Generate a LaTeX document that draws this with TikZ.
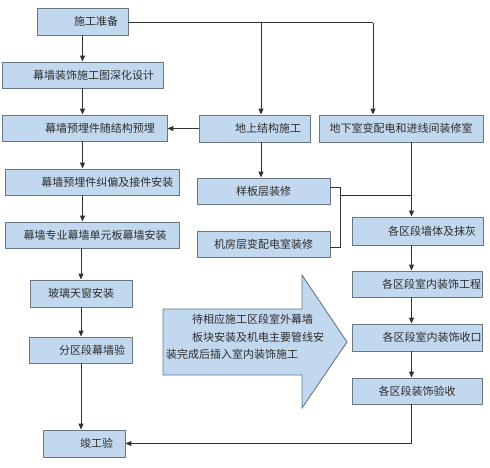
\documentclass[tikz,border=0pt]{standalone}
\usepackage{fontspec}
\setmainfont{Noto Sans CJK SC}
\usetikzlibrary{arrows.meta}
\definecolor{boxfill}{RGB}{193,216,238}
\definecolor{boxline}{RGB}{105,118,132}
\definecolor{linec}{RGB}{50,50,50}
\definecolor{txtc}{RGB}{45,45,45}
\begin{document}
\begin{tikzpicture}[x=1pt,y=-1pt,
  box/.style={draw=boxline,fill=boxfill,line width=0.9pt,inner sep=0pt,
    text=txtc,font=\fontsize{11}{13}\selectfont},
  conn/.style={draw=linec,line width=1pt},
  arr/.style={conn,-{Triangle[length=6pt,width=5pt]}}]
\useasboundingbox (0,0) rectangle (490,467);
% left column
\node[box,minimum width=91pt,minimum height=27pt] (A) at (82.5,21.5) {\hspace*{27pt}施工准备};
\node[box,minimum width=161pt,minimum height=26pt] (B) at (82.5,75) {\hspace*{22pt}幕墙装饰施工图深化设计};
\node[box,minimum width=165pt,minimum height=26pt] (C) at (84.5,128) {\hspace*{31pt}幕墙预埋件随结构预埋};
\node[box,minimum width=174pt,minimum height=26pt] (D) at (92,182) {\hspace*{31pt}幕墙预埋件纠偏及接件安装};
\node[box,minimum width=174pt,minimum height=26pt] (E) at (92,235) {\hspace*{6pt}幕墙专业幕墙单元板幕墙安装};
\node[box,minimum width=102pt,minimum height=27pt] (F) at (81,293.5) {玻璃天窗安装};
\node[box,minimum width=103pt,minimum height=26pt] (G) at (80.5,350) {\hspace*{23pt}分区段幕墙验};
\node[box,minimum width=82pt,minimum height=27pt] (H) at (84,443.5) {\hspace*{25pt}竣工验};
% middle column
\node[box,minimum width=111pt,minimum height=27pt] (I) at (254.5,128.5) {\hspace*{27pt}地上结构施工};
\node[box,minimum width=133pt,minimum height=26pt] (K) at (263.5,191) {样板层装修};
\node[box,minimum width=133pt,minimum height=26pt] (L) at (263.5,244) {机房层变配电室装修};
% right column
\node[box,minimum width=164pt,minimum height=27pt] (J) at (401,128.5) {地下室变配电和进线间装修室};
\node[box,minimum width=131pt,minimum height=28pt] (M) at (417.5,231) {\hspace*{29pt}各区段墙体及抹灰};
\node[box,minimum width=130pt,minimum height=26pt] (N) at (417,284) {\hspace*{29pt}各区段室内装饰工程};
\node[box,minimum width=130pt,minimum height=27pt] (O) at (417,337.5) {\hspace*{30pt}各区段室内装饰收口};
\node[box,minimum width=130pt,minimum height=26pt] (P) at (417,391) {各区段装饰验收};
% big arrow
\draw[draw=boxline,fill=boxfill,line width=0.9pt]
  (163,309) -- (302,309) -- (302,275) -- (347,342) -- (302,408) -- (302,375) -- (163,375) -- cycle;
\node[anchor=west,align=left,inner sep=0pt,text=txtc,font=\fontsize{11}{17.5}\selectfont] (note) at (166,337)
  {\hspace*{26pt}待相应施工区段室外幕墙\\\hspace*{26pt}板块安装及机电主要管线安\\装完成后插入室内装饰施工};
% helper coordinates
\coordinate (itop) at (261,22.5);
\coordinate (jtop) at (373,22.5);
\coordinate (rx) at (411.5,0);
\coordinate (br) at (340,195);
% connectors
\draw[arr] (A) -- (B);
\draw[arr] (B.south -| A) -- (C.north -| A);
\draw[arr] (C.south -| A) -- (D.north -| A);
\draw[arr] (D.south -| A) -- (E.north -| A);
\draw[arr] (E.south -| F) -- (F);
\draw[arr] (F) -- (F.south |- G.north);
\draw[arr] (G.south -| F) -- (H.north -| F);
\draw[conn] (A.east |- itop) -- (jtop);
\draw[arr] (itop) -- (itop |- I.north);
\draw[arr] (jtop) -- (jtop |- J.north);
\draw[arr] (I.west) -- (I.west -| C.east);
\draw[arr] (I.south -| itop) -- (K.north -| itop);
\draw[arr] (J.south -| rx) -- (M.north -| rx);
\draw[conn] ([yshift=4pt]K.east) -- ([yshift=4pt]K.east -| br) |- ([yshift=-3pt]L.east);
\draw[conn] (br) -- (br -| rx);
\draw[arr] (M.south -| rx) -- (N.north -| rx);
\draw[arr] (N.south -| rx) -- (O.north -| rx);
\draw[arr] (O.south -| rx) -- (P.north -| rx);
\draw[arr] (P.south -| rx) |- (H.east);
\end{tikzpicture}
\end{document}
